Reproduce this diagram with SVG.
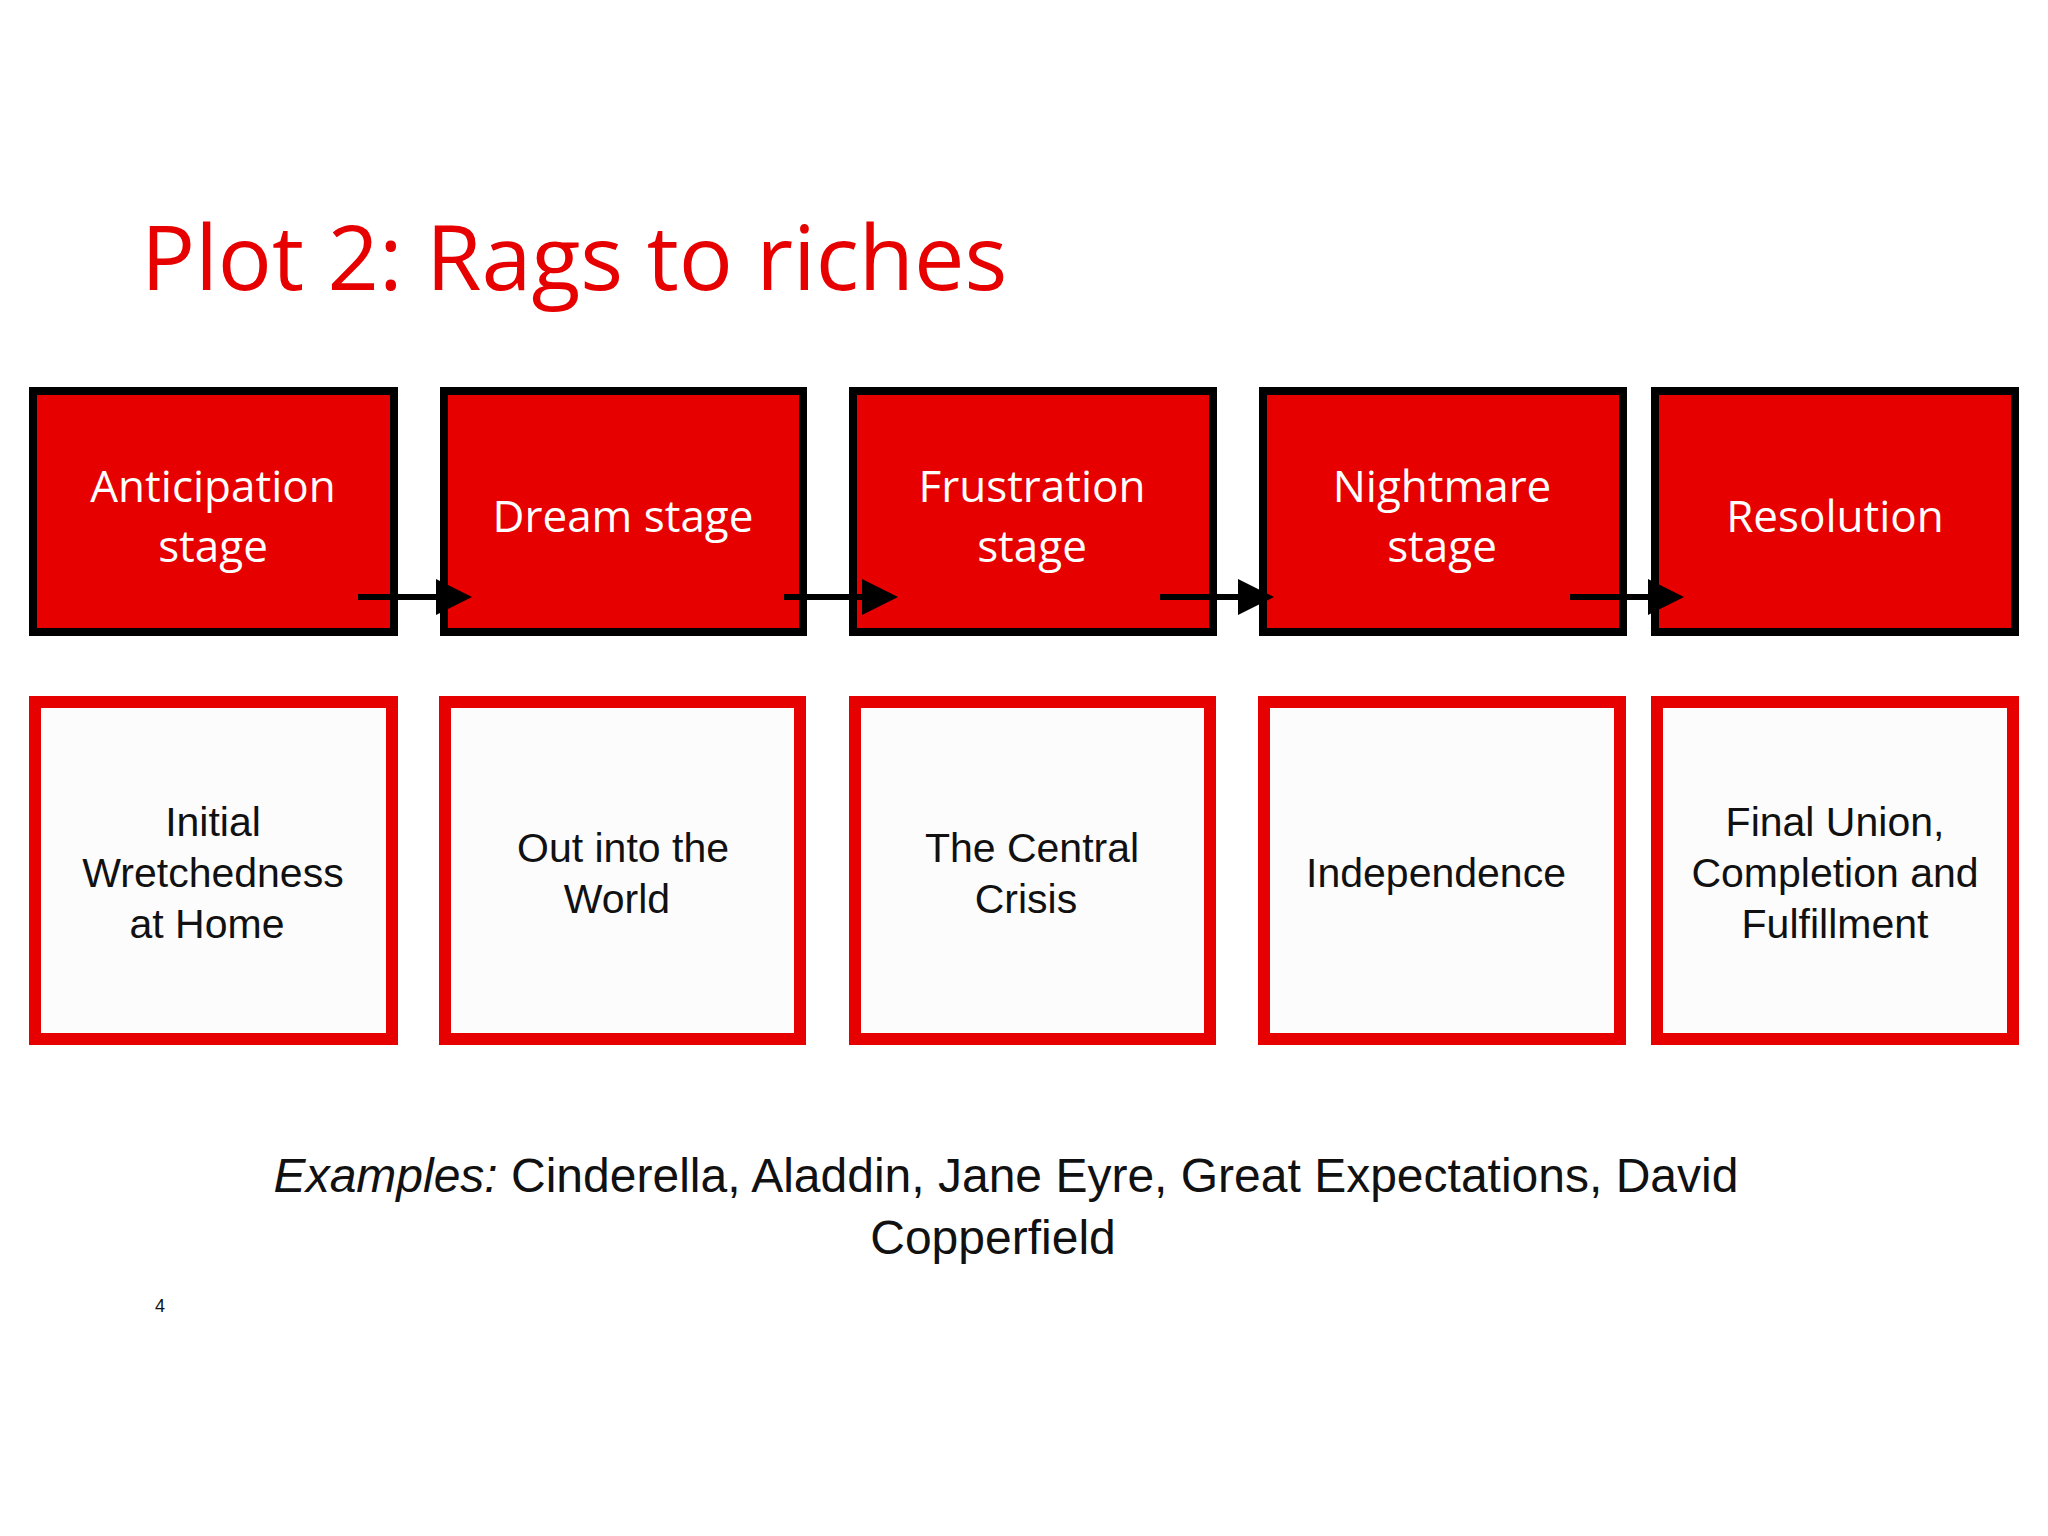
<svg xmlns="http://www.w3.org/2000/svg" width="2048" height="1536" viewBox="0 0 2048 1536">
<style>
.top rect{fill:#e60000;stroke:#000;stroke-width:8}
.bot rect{fill:#fcfcfc;stroke:#e60000;stroke-width:12}
.tt{font-family:"Open Sans","Liberation Sans",sans-serif;font-size:44px;fill:#fff;text-anchor:middle}
.bt{font-family:"Liberation Sans",Arial,sans-serif;font-size:41px;fill:#111;text-anchor:middle}
.conn line{stroke:#000;stroke-width:6;marker-end:url(#ah)}
</style>
<defs><marker id="ah" markerWidth="6" markerHeight="6" refX="5" refY="3" orient="auto" markerUnits="strokeWidth"><path d="M0,0L6,3L0,6z" fill="#000"/></marker></defs>
<rect width="2048" height="1536" fill="#fff"/>
<text x="141" y="290" font-family="Open Sans,Liberation Sans,sans-serif" font-size="90" fill="#e60000">Plot 2: Rags to riches</text>
<g id="n1" class="top"><rect x="33" y="391" width="361" height="241"/><text class="tt" x="213" y="502">Anticipation</text><text class="tt" x="213" y="562">stage</text></g>
<g id="n2" class="top"><rect x="444" y="391" width="359" height="241"/><text class="tt" x="623" y="532">Dream stage</text></g>
<g id="n3" class="top"><rect x="853" y="391" width="360" height="241"/><text class="tt" x="1032" y="502">Frustration</text><text class="tt" x="1032" y="562">stage</text></g>
<g id="n4" class="top"><rect x="1263" y="391" width="360" height="241"/><text class="tt" x="1442" y="502">Nightmare</text><text class="tt" x="1442" y="562">stage</text></g>
<g id="n5" class="top"><rect x="1655" y="391" width="360" height="241"/><text class="tt" x="1835" y="532">Resolution</text></g>
<g id="b1" class="bot"><rect x="35" y="702" width="357" height="337"/><text class="bt" x="213" y="836">Initial</text><text class="bt" x="213" y="887">Wretchedness</text><text class="bt" x="207" y="938">at Home</text></g>
<g id="b2" class="bot"><rect x="445" y="702" width="355" height="337"/><text class="bt" x="623" y="862">Out into the</text><text class="bt" x="617" y="913">World</text></g>
<g id="b3" class="bot"><rect x="855" y="702" width="355" height="337"/><text class="bt" x="1032" y="862">The Central</text><text class="bt" x="1026" y="913">Crisis</text></g>
<g id="b4" class="bot"><rect x="1264" y="702" width="356" height="337"/><text class="bt" x="1436" y="887">Independence</text></g>
<g id="b5" class="bot"><rect x="1657" y="702" width="356" height="337"/><text class="bt" x="1835" y="836">Final Union,</text><text class="bt" x="1835" y="887">Completion and</text><text class="bt" x="1835" y="938">Fulfillment</text></g>
<g id="connectors" class="conn">
<line x1="358" y1="597" x2="466" y2="597"/>
<line x1="784" y1="597" x2="892" y2="597"/>
<line x1="1160" y1="597" x2="1268" y2="597"/>
<line x1="1570" y1="597" x2="1678" y2="597"/>
</g>
<text x="1006" y="1192" font-family="Liberation Sans,Arial,sans-serif" font-size="48" fill="#111" text-anchor="middle"><tspan font-style="italic">Examples:</tspan> Cinderella, Aladdin, Jane Eyre, Great Expectations, David</text>
<text x="993" y="1254" font-family="Liberation Sans,Arial,sans-serif" font-size="48" fill="#111" text-anchor="middle">Copperfield</text>
<text x="155" y="1312" font-family="Liberation Sans,Arial,sans-serif" font-size="18" fill="#111">4</text>
</svg>
